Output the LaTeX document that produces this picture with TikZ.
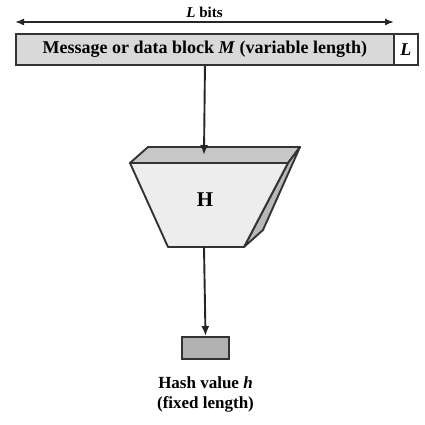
\documentclass[tikz,border=0pt]{standalone}
\usepackage{fontspec}
\setmainfont{Liberation Serif}
\usetikzlibrary{arrows.meta,positioning}

\begin{document}
\begin{tikzpicture}[x=1pt,y=-1pt,
    box/.style={draw=black!80,line width=1.9pt,inner sep=0pt},
    big/.style={font=\bfseries\fontsize{18}{21}\selectfont},
    small/.style={font=\bfseries\fontsize{17}{20}\selectfont},
    flow/.style={draw=black!85,line width=1.9pt,-{Latex[length=10pt,width=8pt]}}]
    \useasboundingbox (0,0) rectangle (424,425);
    % message block and length field
    \node[box,fill=black!15,minimum width=378pt,minimum height=31pt,anchor=north west,big] (msg) at (15,33) {Message or data block \textit{M} (variable length)};
    \node[box,fill=white,minimum width=24pt,minimum height=31pt,anchor=north west,big] (len) at (393,33) {\textit{L}};
    % length arrow
    \coordinate (bitsl) at (15,22);
    \coordinate (bitsr) at (394,22);
    \draw[draw=black!85,line width=1.5pt,{Latex[length=9pt,width=7pt]}-{Latex[length=9pt,width=7pt]}] (bitsl) -- (bitsr) node[midway,above=0pt,font=\bfseries\fontsize{15}{18}\selectfont] (bits) {\textit{L} bits};
    % hash function H
    \coordinate (fl) at (130,163);
    \coordinate (fr) at (288,163);
    \coordinate (bl) at (148,147);
    \coordinate (br) at (300,147);
    \coordinate (dl) at (168,247);
    \coordinate (dr) at (244,247);
    \coordinate (sb) at (263,230);
    \draw[box,fill=black!22,line join=round] (fl) -- (bl) -- (br) -- (fr) -- cycle;
    \draw[box,fill=black!28,line join=round] (fr) -- (br) -- (sb) -- (dr) -- cycle;
    \draw[box,fill=black!7,line join=round] (fl) -- (fr) -- (dr) -- (dl) -- cycle;
    \node[font=\bfseries\fontsize{21}{24}\selectfont] (hfun) at (205,200) {H};
    \coordinate (htop) at (204,155);
    \coordinate (hbot) at (204,247);
    % hash value
    \node[box,fill=black!30,minimum width=47pt,minimum height=22pt] (hval) at (205.5,348) {};
    \node[small,align=center,below=13pt of hval] (hlbl) {Hash value \textit{h}\\(fixed length)};
    \draw[flow] (msg.south) -- (htop);
    \draw[flow] (hbot) -- (hval.north);
\end{tikzpicture}
\end{document}
